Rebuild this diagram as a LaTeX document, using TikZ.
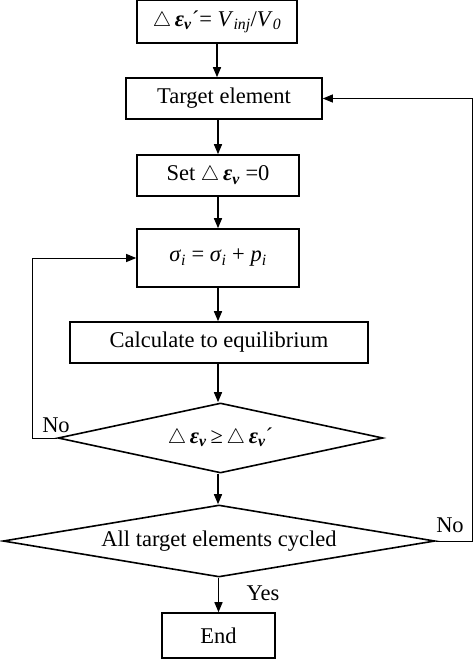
\documentclass[tikz,border=0pt]{standalone}
\usepackage{fontspec}
\setmainfont{Liberation Serif}
\usepackage{amsmath}
\usetikzlibrary{shapes.geometric,arrows.meta}

\newcommand{\dev}{\ensuremath{\triangle}\,\textbf{\textit{ε}}\textsubscript{\textbf{\textit{v}}}}
\newcommand{\sigi}{\textit{σ}\textsubscript{\textit{i}}}

\begin{document}
\begin{tikzpicture}[x=1pt,y=-1pt,
	box/.style={draw=black,line width=1.6pt,inner sep=0pt,font=\fontsize{22.5}{26}\selectfont},
	decision/.style={shape=diamond,aspect=5,draw=black,line width=1.6pt,inner sep=0pt,font=\fontsize{22.5}{26}\selectfont},
	flow/.style={-{Triangle[length=10pt,width=8pt]},line width=1.5pt},
	back/.style={-{Triangle[length=10pt,width=8pt]},line width=1pt},
	lbl/.style={inner sep=0pt,font=\fontsize{22.5}{26}\selectfont}]
	
	\useasboundingbox (0,0) rectangle (474,659);
	
	\node[box,minimum width=160pt,minimum height=43pt] (start) at (217, 21.5)   {\dev´= \textit{V}\textsubscript{\textit{inj}}/\textit{V}\textsubscript{\textit{0}}};
	\node[box,minimum width=196pt,minimum height=41pt] (target) at (224, 98.5)  {Target element};
	\node[box,minimum width=162pt,minimum height=41pt] (set) at (218, 175.5)    {Set \dev{} =0};
	\node[box,minimum width=162pt,minimum height=58pt] (sigma) at (218, 258)    {\sigi{} = \sigi{} + \textit{p}\textsubscript{\textit{i}}};
	\node[box,minimum width=298pt,minimum height=41pt] (calc) at (219, 342.5)   {Calculate to equilibrium};
	\node[decision,minimum width=325pt,minimum height=70pt] (check) at (220.5, 438) {\dev{}\,≥\,\dev´};
	\node[decision,minimum width=432pt,minimum height=72pt] (cycled) at (219, 541) {All target elements cycled};
	\node[box,minimum width=113pt,minimum height=45pt] (end) at (218.5, 635.5)  {End};
	
	\coordinate (leftloop) at (32, 438);
	\coordinate (rightloop) at (472, 541);
	
	\draw[flow] (start.south) -- (start.south |- target.north);
	\draw[flow] (set.north |- target.south) -- (set.north);
	\draw[flow] (set.south) -- (sigma.north);
	\draw[flow] (sigma.south) -- (sigma.south |- calc.north);
	\draw[flow] (sigma.south |- calc.south) -- (sigma.south |- check.north);
	\draw[flow] (sigma.south |- check.south) -- (sigma.south |- cycled.north);
	\draw[flow] (end.north |- cycled.south) -- (end.north);
	
	\draw[back] (check.west) -- (leftloop) |- (sigma.west);
	\draw[back] (cycled.east) -- (rightloop) |- (target.east);
	
	\node[lbl] (no1) at (56, 425)  {No};
	\node[lbl] (no2) at (450, 525) {No};
	\node[lbl] (yes) at (263, 593) {Yes};
	
\end{tikzpicture}
\end{document}
